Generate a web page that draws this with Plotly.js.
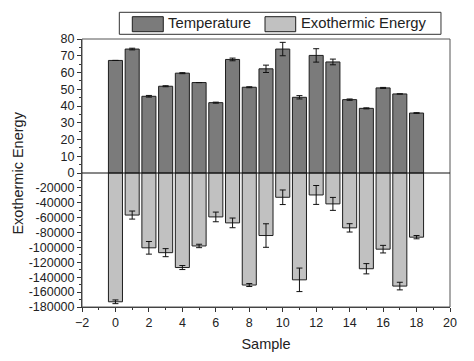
<!DOCTYPE html>
<html>
<head>
<meta charset="utf-8">
<script src="https://cdn.plot.ly/plotly-3.0.1.min.js"></script>
<style>html,body{margin:0;padding:0;background:#fff}#chart{width:474px;height:361px}</style>
</head>
<body>
<div id="chart"></div>
<script>
const samples = [0,1,2,3,4,5,6,7,8,9,10,11,12,13,14,15,16,17,18];
const temperature = [67.2,74.0,45.8,51.8,59.6,54.0,42.0,67.8,51.2,62.2,74.0,45.2,70.2,66.3,43.8,38.6,50.8,47.2,35.8];
const temperatureErr = [0,0.5,0.5,0.3,0.3,0,0.3,0.8,0.3,2.2,4.0,1.0,4.0,1.7,0.4,0.3,0.3,0,0.2];
const energy = [-173000,-56500,-100500,-107000,-127000,-98000,-59000,-67000,-150500,-84000,-32600,-143500,-29500,-41500,-73700,-128600,-102300,-151900,-86200];
const energyErr = [2500,5400,8500,5400,2700,2300,6500,6500,2000,15800,9800,15800,12700,8700,5600,6900,5100,5100,2200];
const seriesNames = ['Temperature','Exothermic Energy'];
const seriesColors = ['#7b7b7b','#c1c1c1'];
const tempTicks = [10,20,30,40,50,60,70,80];
const tempTickText = ['10','20','30','40','50','60','70','80'];
const energyTicks = [-180000,-160000,-140000,-120000,-100000,-80000,-60000,-40000,-20000,0];
const energyTickText = ['-180000','-160000','-140000','-120000','-100000','-80000','-60000','-40000','-20000','0'];

const font = 'Arial, "Liberation Sans", sans-serif';
const data = [
  {type:'bar', name:seriesNames[0], x:samples, y:temperature, xaxis:'x', yaxis:'y', width:0.84,
   marker:{color:seriesColors[0], line:{color:'#1e1e1e', width:1}},
   error_y:{type:'data', array:temperatureErr, color:'#111', thickness:1, width:3}},
  {type:'bar', name:seriesNames[1], x:samples, y:energy, xaxis:'x', yaxis:'y2', width:0.84,
   marker:{color:seriesColors[1], line:{color:'#1e1e1e', width:1}},
   error_y:{type:'data', array:energyErr, color:'#111', thickness:1, width:3}}
];
const axCommon = {showline:true, linecolor:'#333', linewidth:1, ticks:'outside', ticklen:4, tickcolor:'#333',
  showgrid:false, zeroline:false, tickfont:{family:font, size:12.5, color:'#222'}};

// custom legend (wide swatches like the reference)
const legBox = {type:'rect', xref:'paper', yref:'paper', x0:0.1014, x1:0.9755, y0:1.0175, y1:1.0996,
  line:{color:'#333', width:1}, fillcolor:'#fff'};
const sw1 = {type:'rect', xref:'paper', yref:'paper', x0:0.1367, x1:0.2209, y0:1.0272, y1:1.0832,
  line:{color:'#1e1e1e', width:1}, fillcolor:seriesColors[0]};
const sw2 = {type:'rect', xref:'paper', yref:'paper', x0:0.4973, x1:0.5807, y0:1.0272, y1:1.0832,
  line:{color:'#1e1e1e', width:1}, fillcolor:seriesColors[1]};

const layout = {
  width:474, height:361, margin:{l:82, r:24, t:39, b:54},
  paper_bgcolor:'#fff', plot_bgcolor:'#fff', showlegend:false,
  font:{family:font},
  xaxis:Object.assign({}, axCommon, {range:[-2,20], dtick:2, tick0:0, anchor:'y2',
    minor:{dtick:1, ticks:'outside', ticklen:2, tickcolor:'#333'},
    title:{text:'Sample', font:{family:font, size:14.5, color:'#222'}, standoff:9}}),
  yaxis:Object.assign({}, axCommon, {domain:[0.5,1], range:[0,80], anchor:'x',
    tickmode:'array', tickvals:tempTicks, ticktext:tempTickText,
    minor:{tickvals:[5,15,25,35,45,55,65,75], ticks:'outside', ticklen:2, tickcolor:'#333'}}),
  yaxis2:Object.assign({}, axCommon, {domain:[0,0.5], range:[-180000,0], anchor:'x',
    tickmode:'array', tickvals:energyTicks, ticktext:energyTickText,
    minor:{tickvals:[-170000,-150000,-130000,-110000,-90000,-70000,-50000,-30000,-10000], ticks:'outside', ticklen:2, tickcolor:'#333'}}),
  shapes:[
    {type:'rect', xref:'paper', yref:'paper', x0:0, x1:1, y0:0, y1:1, line:{color:'#555', width:1}},
    {type:'line', xref:'paper', yref:'paper', x0:0, x1:1, y0:0.5, y1:0.5, line:{color:'#111', width:1}},
    legBox, sw1, sw2
  ],
  annotations:[
    {text:'Exothermic Energy', xref:'paper', yref:'paper', x:-0.175, y:0.5, textangle:-90, showarrow:false,
     xanchor:'center', yanchor:'middle', font:{family:font, size:14.5, color:'#222'}},
    {text:seriesNames[0], xref:'paper', yref:'paper', x:0.2285, y:1.0586, showarrow:false,
     xanchor:'left', yanchor:'middle', font:{family:font, size:14.8, color:'#222'}},
    {text:seriesNames[1], xref:'paper', yref:'paper', x:0.589, y:1.0586, showarrow:false,
     xanchor:'left', yanchor:'middle', font:{family:font, size:14.8, color:'#222'}}
  ]
};
Plotly.newPlot('chart', data, layout, {displayModeBar:false, staticPlot:true});
</script>
</body>
</html>
